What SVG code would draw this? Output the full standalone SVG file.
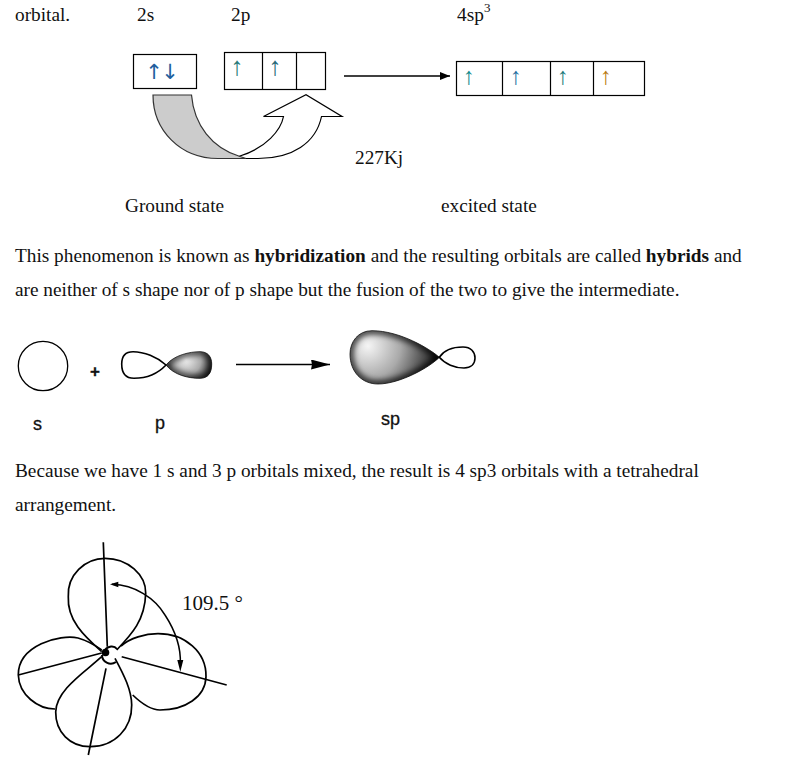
<svg xmlns="http://www.w3.org/2000/svg" width="792" height="762" viewBox="0 0 792 762">
<style>
text{font-family:"Liberation Serif","Times New Roman",serif;font-size:19.3px;fill:#111}
.b{font-weight:bold}
.a{font-family:"Liberation Sans",Arial,sans-serif;font-size:18px;stroke:#111;stroke-width:.3}
.box{fill:#fff;stroke:#000;stroke-width:1.2}
.ar{font-size:26px;text-anchor:middle}
.ar4{font-size:24px;text-anchor:middle}
.ar2{font-family:"DejaVu Sans",sans-serif;font-size:21px;text-anchor:middle;fill:#1f5f9e}
.ln{fill:none;stroke:#000;stroke-width:1.3}
.lo{fill:none;stroke:#000;stroke-width:1.600}
.te{fill:none;stroke:#000;stroke-width:1.700}
</style>
<defs>
<radialGradient id="g1" gradientUnits="userSpaceOnUse" cx="186" cy="360" r="27"><stop offset="0" stop-color="#f0f0f0"/><stop offset=".55" stop-color="#aaa"/><stop offset="1" stop-color="#222"/></radialGradient>
<radialGradient id="g2" gradientUnits="userSpaceOnUse" cx="368" cy="346" r="72"><stop offset="0" stop-color="#f5f5f5"/><stop offset=".45" stop-color="#aaa"/><stop offset="1" stop-color="#111"/></radialGradient>
<clipPath id="c1"><path id="p1" d="M166 365C174 355 190 351.700 200 351.700C208 351.700 211.700 357 211.700 364C211.700 373 208 378.300 200 378.300C188 378.300 174 375 166 365Z"/></clipPath>
<clipPath id="c2"><path id="p2" d="M439.300 357.300C430 349 400 330.700 372 330.700C358 330.700 350 342 350 354C350 372 362 384 378 384C400 384 430 367 439.300 357.300Z"/></clipPath>
<filter id="bl" x="-30%" y="-30%" width="160%" height="160%"><feGaussianBlur stdDeviation="3"/></filter>
<marker id="m" markerWidth="12" markerHeight="10" refX="10" refY="4" orient="auto" markerUnits="userSpaceOnUse"><path d="M0 0L10 4L0 8Z" fill="#000"/></marker>
<marker id="m2" markerWidth="22" markerHeight="12" refX="19" refY="5" orient="auto" markerUnits="userSpaceOnUse"><path d="M0 0L19 5L0 10L1 5Z" fill="#000"/></marker>
</defs>
<g id="top-labels">
<text x="15" y="21">orbital.</text><text x="137" y="21">2s</text><text x="231" y="21">2p</text>
<text x="457" y="21">4sp</text><text x="484" y="12" style="font-size:13px">3</text>
<text x="355" y="163.500">227Kj</text><text x="125" y="212">Ground state</text><text x="441" y="212">excited state</text>
</g>
<g id="box-2s"><rect class="box" x="133.500" y="54.500" width="63" height="34"/>
<text class="ar2" x="154" y="79">↑</text><text class="ar2" x="170" y="79">↓</text></g>
<g id="box-2p"><rect class="box" x="224.500" y="52.500" width="101" height="37"/><path class="box" d="M262.500 52.500V89.500M296.500 52.500V89.500"/>
<text class="ar" x="237" y="75" style="fill:#2a7a7a">↑</text><text class="ar" x="275" y="75" style="fill:#2a6a7a">↑</text></g>
<g id="box-4sp3"><rect class="box" x="456.500" y="61.500" width="188" height="34"/><path class="box" d="M502.500 61.500V95.500M550.500 61.500V95.500M593.500 61.500V95.500"/>
<text class="ar4" x="469" y="84" style="fill:#0f8a8a">↑</text><text class="ar4" x="516" y="84" style="fill:#1f6fa0">↑</text><text class="ar4" x="563" y="84" style="fill:#1a7a7a">↑</text><text class="ar4" x="606" y="84" style="fill:#b87a10">↑</text></g>
<g id="curved-arrow">
<path d="M240 156C266 148 281 130 283.500 116.500L263.500 116.500L306 94.700L342 116.500L321.500 116.500C316 143 292 158.500 258 158.500L236 158.500Z" fill="#fff" stroke="#000" stroke-width="1.200"/>
<path d="M153 95H191.500C194 125 212 148 240 156.500L246 158.500H218C180 158.500 153 130 153 95Z" fill="#ccc" stroke="#333" stroke-width="1.200"/>
</g>
<g id="connectors">
<path class="ln" style="stroke-width:1.600" d="M344 76H450" marker-end="url(#m)"/>
<path class="ln" d="M236 364.500H330" marker-end="url(#m2)"/>
</g>
<g id="paragraph-1">
<text x="15" y="262">This phenomenon is known as <tspan class="b">hybridization</tspan> and the resulting orbitals are called <tspan class="b">hybrids</tspan> and</text>
<text x="15" y="296">are neither of s shape nor of p shape but the fusion of the two to give the intermediate.</text>
</g>
<g id="orbital-s"><circle class="ln" cx="43" cy="366" r="24.700"/><text class="a" x="33" y="430">s</text></g>
<text class="a b" x="90" y="377" style="font-size:17px">+</text>
<g id="orbital-p">
<path class="lo" d="M166 365C157 357 144 351.700 133 351.700C124 351.700 121.700 358 121.700 364C121.700 373 125 378.300 134 378.300C147 378.300 158 373.500 166 365Z"/>
<use href="#p1" fill="url(#g1)"/>
<g clip-path="url(#c1)"><use href="#p1" fill="none" stroke="#000" stroke-width="4" filter="url(#bl)"/></g>
<use href="#p1" fill="none" stroke="#111" stroke-width=".8"/>
<text class="a" x="155" y="429">p</text></g>
<g id="orbital-sp">
<use href="#p2" fill="url(#g2)"/>
<g clip-path="url(#c2)"><use href="#p2" fill="none" stroke="#000" stroke-width="5" filter="url(#bl)"/></g>
<use href="#p2" fill="none" stroke="#111" stroke-width=".8"/>
<path class="lo" d="M439.300 357.300C444 350 453 347 463 347C471 347 475 352 475 358C475 364 471 368 464 368C455 368 445 364 439.300 357.300Z"/>
<text class="a" x="381" y="425">sp</text></g>
<g id="paragraph-2">
<text x="15" y="477">Because we have 1 s and 3 p orbitals mixed, the result is 4 sp3 orbitals with a tetrahedral</text>
<text x="15" y="511">arrangement.</text>
</g>
<g id="tetrahedral">
<path class="te" d="M101.700 651.700C84 636 67 620 68.300 596.700C67 575 85 558.300 105 558.300C128 558.300 146 575 145.700 593.300C145 620 132 634 116.700 650"/>
<path class="te" d="M121 646C130 638 145 633.700 158 633.700C185 633.700 206.500 652 206 676.700C205.500 697 185 710 160 710C150 710 140 702 132.700 695"/>
<path class="te" d="M101.700 650C95 645 85 640 78 638C60 634 18 645 18.300 675C19 695 38 709 55 709"/>
<path class="te" d="M101.700 656.700C85 672 56 690 55.700 712C55.500 732 70 746.700 90 746.700C115 746.700 132 728 131.700 705C131.500 690 124 675 115 658.300"/>
<path class="te" d="M103.300 542.300L107.300 646.700M18.300 675L101.700 653M121.700 656.700L226.700 685M106 668.300L88.300 755"/>
<path class="te" style="stroke-width:1.500" d="M112 584.300C135 585 155 598 165 615C178 635 181 650 180.300 664"/>
<path d="M110 584.300L118.300 581.700L118.300 587.300ZM180.300 671.700L177.300 660L183.300 660Z" fill="#000"/>
<circle cx="105.500" cy="652.500" r="3.800" fill="#000"/>
<path class="te" style="stroke-width:2" d="M105 650C108 646 114 645 117 649M102 655C102 662 110 666 116 662"/>
<text x="182" y="610" style="font-size:21px">109.5 °</text>
</g>
</svg>
